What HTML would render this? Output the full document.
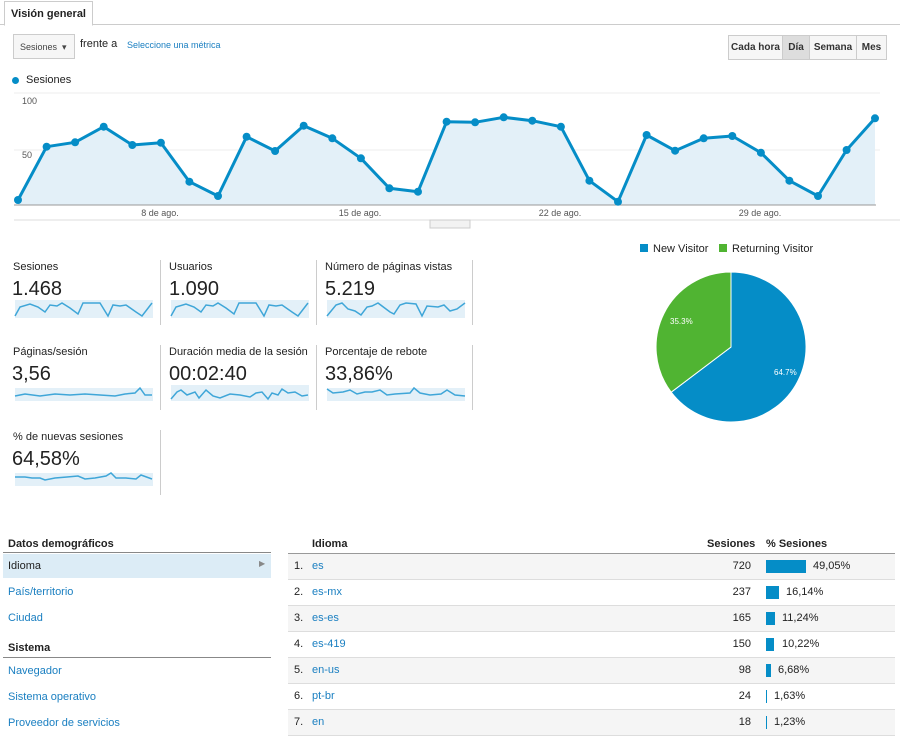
<!DOCTYPE html>
<html><head><meta charset="utf-8"><style>
body{margin:0;width:900px;height:742px;background:#fff;font-family:"Liberation Sans",Arial,sans-serif;color:#222;position:relative;overflow:hidden}
.a{position:absolute;white-space:nowrap}
.lk{color:#1a7fc1}
.btn{position:absolute;top:35px;height:23px;border:1px solid #ccc;background:#f6f6f6;font-size:10px;font-weight:bold;line-height:23px;text-align:center;color:#333}
.mt{position:absolute;font-size:11px}
.mv{position:absolute;font-size:20px}
.sep{position:absolute;width:1px;background:#ccc;height:65px}
.row{position:absolute;left:288px;width:607px;height:25px;border-bottom:1px solid #ddd;font-size:11px;line-height:25px}
.row.g{background:#f5f5f5}
.row span{position:absolute}
</style></head><body>
<div class="a" style="left:0;top:24px;width:900px;border-top:1px solid #ccc"></div>
<div class="a" style="left:4px;top:1px;width:87px;height:23px;border:1px solid #ccc;border-bottom:1px solid #fff;background:#fff;font-size:11px;font-weight:bold;line-height:24px;text-align:center">Visión general</div>
<div class="a" style="left:13px;top:34px;width:62px;height:25px;border:1px solid #ccc;background:#f6f6f6;font-size:9px;line-height:25px;color:#444;padding-left:6px;box-sizing:border-box">Sesiones &nbsp;▾</div>
<div class="a" style="left:80px;top:38px;font-size:11px">frente a</div>
<div class="a lk" style="left:127px;top:40px;font-size:9px">Seleccione una métrica</div>
<div class="btn" style="left:728px;width:53px">Cada hora</div>
<div class="btn" style="left:782px;width:26px;background:#ddd">Día</div>
<div class="btn" style="left:809px;width:46px">Semana</div>
<div class="btn" style="left:856px;width:29px">Mes</div>
<div class="a" style="left:12px;top:77px;width:7px;height:7px;border-radius:50%;background:#058dc7"></div>
<div class="a" style="left:26px;top:74px;font-size:11px">Sesiones</div>
<div class="a" style="left:22px;top:96px;font-size:9px;color:#555">100</div>
<div class="a" style="left:22px;top:150px;font-size:9px;color:#555">50</div>
<svg class="a" style="left:0;top:0" width="900" height="235">
<line x1="14" y1="93" x2="880" y2="93" stroke="#eee"/>
<line x1="14" y1="150" x2="880" y2="150" stroke="#eee"/>
<polygon fill="#e3f0f8" points="18,205 18,200 46.6,146.7 75.1,142.3 103.7,126.7 132.3,145 160.9,142.7 189.4,181.7 218,196 246.6,136.7 275.1,151 303.7,125.7 332.3,138.3 360.9,158.3 389.4,188.3 418,191.7 446.6,121.7 475.1,122.3 503.7,117.3 532.3,120.7 560.9,126.7 589.4,180.7 618,201.7 646.6,135 675.1,150.7 703.7,138.3 732.3,136 760.9,152.7 789.4,180.7 818,196 846.6,150 875,118.3 875,205"/>
<line x1="14" y1="205" x2="876" y2="205" stroke="#999"/>
<line x1="14" y1="220" x2="900" y2="220" stroke="#ddd"/>
<polyline fill="none" stroke="#058dc7" stroke-width="3" stroke-linejoin="round" points="18,200 46.6,146.7 75.1,142.3 103.7,126.7 132.3,145 160.9,142.7 189.4,181.7 218,196 246.6,136.7 275.1,151 303.7,125.7 332.3,138.3 360.9,158.3 389.4,188.3 418,191.7 446.6,121.7 475.1,122.3 503.7,117.3 532.3,120.7 560.9,126.7 589.4,180.7 618,201.7 646.6,135 675.1,150.7 703.7,138.3 732.3,136 760.9,152.7 789.4,180.7 818,196 846.6,150 875,118.3"/>
<g fill="#058dc7">
<circle cx="18" cy="200" r="4"/><circle cx="46.6" cy="146.7" r="4"/><circle cx="75.1" cy="142.3" r="4"/><circle cx="103.7" cy="126.7" r="4"/><circle cx="132.3" cy="145" r="4"/><circle cx="160.9" cy="142.7" r="4"/><circle cx="189.4" cy="181.7" r="4"/><circle cx="218" cy="196" r="4"/><circle cx="246.6" cy="136.7" r="4"/><circle cx="275.1" cy="151" r="4"/><circle cx="303.7" cy="125.7" r="4"/><circle cx="332.3" cy="138.3" r="4"/><circle cx="360.9" cy="158.3" r="4"/><circle cx="389.4" cy="188.3" r="4"/><circle cx="418" cy="191.7" r="4"/><circle cx="446.6" cy="121.7" r="4"/><circle cx="475.1" cy="122.3" r="4"/><circle cx="503.7" cy="117.3" r="4"/><circle cx="532.3" cy="120.7" r="4"/><circle cx="560.9" cy="126.7" r="4"/><circle cx="589.4" cy="180.7" r="4"/><circle cx="618" cy="201.7" r="4"/><circle cx="646.6" cy="135" r="4"/><circle cx="675.1" cy="150.7" r="4"/><circle cx="703.7" cy="138.3" r="4"/><circle cx="732.3" cy="136" r="4"/><circle cx="760.9" cy="152.7" r="4"/><circle cx="789.4" cy="180.7" r="4"/><circle cx="818" cy="196" r="4"/><circle cx="846.6" cy="150" r="4"/><circle cx="875" cy="118.3" r="4"/>
</g>
<rect x="430" y="220" width="40" height="8" fill="#f2f2f2" stroke="#ccc"/>
<g font-size="9" fill="#555" font-family="Liberation Sans, sans-serif" text-anchor="middle">
<text x="160" y="216">8 de ago.</text><text x="360" y="216">15 de ago.</text><text x="560" y="216">22 de ago.</text><text x="760" y="216">29 de ago.</text></g>
</svg>

<div class="mt" style="left:13px;top:261px">Sesiones</div><div class="mv" style="left:12px;top:278px">1.468</div>
<div class="mt" style="left:169px;top:261px">Usuarios</div><div class="mv" style="left:169px;top:278px">1.090</div>
<div class="mt" style="left:325px;top:261px">Número de páginas vistas</div><div class="mv" style="left:325px;top:278px">5.219</div>
<div class="mt" style="left:13px;top:346px">Páginas/sesión</div><div class="mv" style="left:12px;top:363px">3,56</div>
<div class="mt" style="left:169px;top:346px">Duración media de la sesión</div><div class="mv" style="left:169px;top:363px">00:02:40</div>
<div class="mt" style="left:325px;top:346px">Porcentaje de rebote</div><div class="mv" style="left:325px;top:363px">33,86%</div>
<div class="mt" style="left:13px;top:431px">% de nuevas sesiones</div><div class="mv" style="left:12px;top:448px">64,58%</div>
<div class="sep" style="left:160px;top:260px"></div><div class="sep" style="left:316px;top:260px"></div><div class="sep" style="left:472px;top:260px"></div>
<div class="sep" style="left:160px;top:345px"></div><div class="sep" style="left:316px;top:345px"></div><div class="sep" style="left:472px;top:345px"></div>
<div class="sep" style="left:160px;top:430px"></div>
<svg class="a" style="left:0;top:0" width="480" height="500">
<g fill="#e3f0f8" stroke="none">
<rect x="15" y="300" width="138" height="18"/><rect x="171" y="300" width="138" height="18"/><rect x="327" y="300" width="138" height="18"/>
<rect x="15" y="388" width="138" height="13"/><rect x="171" y="385" width="138" height="16"/><rect x="327" y="388" width="138" height="13"/>
<rect x="15" y="473" width="138" height="13"/></g>
<g fill="none" stroke="#3fa6d8" stroke-width="1.5">
<polyline points="15,316 20,307 30,304 38,307 45,312 50,305 57,306 62,303 70,308 78,314 83,303 100,303 108,316 113,305 120,306 126,305 136,312 142,316 152,303"/>
<polyline points="171,316 176,307 186,304 194,307 201,312 206,305 213,306 218,303 226,308 234,314 239,303 256,303 264,316 269,305 276,306 282,305 292,312 298,316 308,303"/>
<polyline points="327,316 336,305 342,303 348,309 355,311 361,315 367,307 372,306 378,303 390,312 394,314 400,305 406,303 416,304 422,316 427,306 438,307 444,305 450,311 457,309 465,303"/>
<polyline points="15,396 25,394 40,396 55,394 70,395 85,394 100,395 115,396 125,394 135,393 140,388 145,395 152,395"/>
<polyline points="171,399 177,392 181,390 187,395 195,392 199,398 206,390 213,396 220,398 230,394 240,395 250,397 256,393 262,392 268,399 272,393 278,395 282,389 288,393 295,392 302,396 308,395"/>
<polyline points="327,389 333,393 343,392 350,390 357,394 365,392 372,392 380,390 387,395 395,394 410,393 414,388 420,393 430,395 441,394 447,390 455,395 465,396"/>
<polyline points="15,477 25,477 32,478 40,478 45,480 55,478 67,477 78,476 85,479 95,478 106,476 111,473 116,478 126,478 136,479 141,475 152,479"/>
</g></svg>

<div class="a" style="left:640px;top:244px;width:8px;height:8px;background:#058dc7"></div>
<div class="a" style="left:653px;top:243px;font-size:11px">New Visitor</div>
<div class="a" style="left:719px;top:244px;width:8px;height:8px;background:#50b432"></div>
<div class="a" style="left:732px;top:243px;font-size:11px">Returning Visitor</div>
<svg class="a" style="left:0;top:0" width="900" height="500">
<path d="M731,347 L731,272 A75,75 0 1,1 671.2,392.2 Z" fill="#058dc7" stroke="#fff" stroke-width="1"/>
<path d="M731,347 L671.2,392.2 A75,75 0 0,1 731,272 Z" fill="#50b432" stroke="#fff" stroke-width="1"/>
<text x="774" y="375" font-size="8" fill="#fff" font-family="Liberation Sans, sans-serif">64.7%</text>
<text x="670" y="324" font-size="8" fill="#fff" font-family="Liberation Sans, sans-serif">35.3%</text>
</svg>

<div class="a" style="left:8px;top:538px;font-size:11px;font-weight:bold">Datos demográficos</div>
<div class="a" style="left:3px;top:552px;width:268px;border-top:1px solid #888"></div>
<div class="a" style="left:3px;top:554px;width:268px;height:24px;background:#dcecf6"></div>
<div class="a" style="left:8px;top:560px;font-size:11px">Idioma</div>
<div class="a" style="left:259px;top:559px;font-size:8px;color:#888">▶</div>
<div class="a lk" style="left:8px;top:586px;font-size:11px">País/territorio</div>
<div class="a lk" style="left:8px;top:612px;font-size:11px">Ciudad</div>
<div class="a" style="left:8px;top:642px;font-size:11px;font-weight:bold">Sistema</div>
<div class="a" style="left:3px;top:657px;width:268px;border-top:1px solid #888"></div>
<div class="a lk" style="left:8px;top:665px;font-size:11px">Navegador</div>
<div class="a lk" style="left:8px;top:691px;font-size:11px">Sistema operativo</div>
<div class="a lk" style="left:8px;top:717px;font-size:11px">Proveedor de servicios</div>

<div class="a" style="left:312px;top:538px;font-size:11px;font-weight:bold">Idioma</div>
<div class="a" style="left:707px;top:538px;font-size:11px;font-weight:bold">Sesiones</div>
<div class="a" style="left:766px;top:538px;font-size:11px;font-weight:bold">% Sesiones</div>
<div class="a" style="left:288px;top:553px;width:607px;border-top:1px solid #999"></div>
<div class="row g" style="top:554px"><span style="left:6px">1.</span><span class="lk" style="left:24px">es</span><span style="right:144px">720</span><span style="left:478px;top:6px;width:40px;height:13px;background:#058dc7"></span><span style="left:525px">49,05%</span></div>
<div class="row" style="top:580px"><span style="left:6px">2.</span><span class="lk" style="left:24px">es-mx</span><span style="right:144px">237</span><span style="left:478px;top:6px;width:13px;height:13px;background:#058dc7"></span><span style="left:498px">16,14%</span></div>
<div class="row g" style="top:606px"><span style="left:6px">3.</span><span class="lk" style="left:24px">es-es</span><span style="right:144px">165</span><span style="left:478px;top:6px;width:9px;height:13px;background:#058dc7"></span><span style="left:494px">11,24%</span></div>
<div class="row" style="top:632px"><span style="left:6px">4.</span><span class="lk" style="left:24px">es-419</span><span style="right:144px">150</span><span style="left:478px;top:6px;width:8px;height:13px;background:#058dc7"></span><span style="left:494px">10,22%</span></div>
<div class="row g" style="top:658px"><span style="left:6px">5.</span><span class="lk" style="left:24px">en-us</span><span style="right:144px">98</span><span style="left:478px;top:6px;width:5px;height:13px;background:#058dc7"></span><span style="left:490px">6,68%</span></div>
<div class="row" style="top:684px"><span style="left:6px">6.</span><span class="lk" style="left:24px">pt-br</span><span style="right:144px">24</span><span style="left:478px;top:6px;width:1px;height:13px;background:#058dc7"></span><span style="left:486px">1,63%</span></div>
<div class="row g" style="top:710px"><span style="left:6px">7.</span><span class="lk" style="left:24px">en</span><span style="right:144px">18</span><span style="left:478px;top:6px;width:1px;height:13px;background:#058dc7"></span><span style="left:486px">1,23%</span></div>
</body></html>
